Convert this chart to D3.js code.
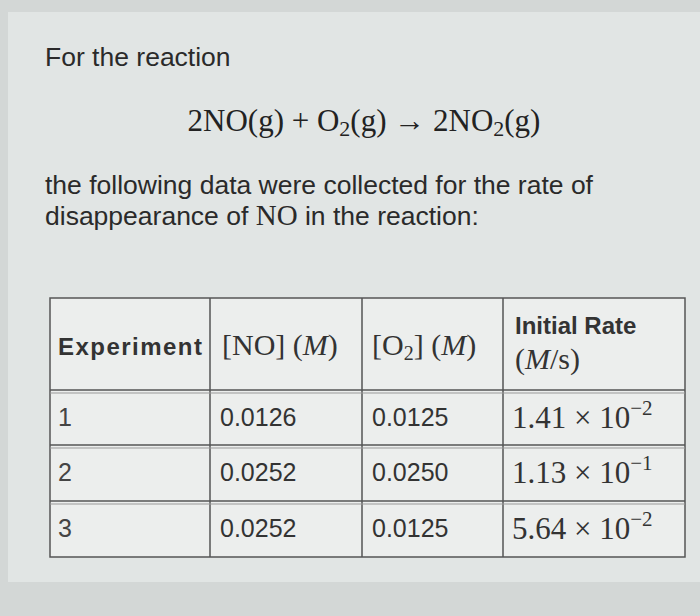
<!DOCTYPE html>
<html><head><meta charset="utf-8">
<script src="https://cdn.jsdelivr.net/npm/d3@7"></script>
<style>body{margin:0;background:#d6dad9}</style></head>
<body><svg id="c" width="700" height="616"></svg>
<script>
// table contents
const headers = ["Experiment", "[NO] (M)", "[O2] (M)", "Initial Rate (M/s)"];
const experiments = ["1", "2", "3"];
const noConc = ["0.0126", "0.0252", "0.0252"];
const o2Conc = ["0.0125", "0.0250", "0.0125"];
const rateMant = ["1.41", "1.13", "5.64"];
const rateExp = ["−2", "−1", "−2"];

const svg = d3.select("#c");
const sans = "Helvetica, Arial, 'Liberation Sans', sans-serif";
const serif = "'Liberation Serif', 'Times New Roman', serif";

svg.append("rect").attr("width", 700).attr("height", 616).attr("fill", "#d3d7d6");
svg.append("rect").attr("x", 8).attr("y", 12).attr("width", 692).attr("height", 570).attr("fill", "#e1e5e4");

svg.append("text").attr("x", 45).attr("y", 66).attr("font-family", sans).attr("font-size", 26.5)
  .attr("fill", "#2a2a2a").text("For the reaction");

// equation
const eq = svg.append("text").attr("x", 364).attr("y", 131).attr("text-anchor", "middle")
  .attr("font-family", serif).attr("font-size", 31).attr("fill", "#222");
eq.append("tspan").text("2NO(g) + O");
eq.append("tspan").attr("font-size", 22).attr("dy", 5).text("2");
eq.append("tspan").attr("dy", -5).text("(g) → 2NO");
eq.append("tspan").attr("font-size", 22).attr("dy", 5).text("2");
eq.append("tspan").attr("dy", -5).text("(g)");

const p = svg.append("text").attr("font-family", sans).attr("font-size", 26.5).attr("fill", "#2a2a2a");
p.append("tspan").attr("x", 45).attr("y", 194).text("the following data were collected for the rate of");
const l2 = p.append("tspan").attr("x", 45).attr("y", 225);
l2.append("tspan").text("disappearance of ");
l2.append("tspan").attr("font-family", serif).attr("font-size", 29).text("NO");
l2.append("tspan").text(" in the reaction:");

// table geometry via scales
const colEdges = [50, 210, 362, 503, 685];
const rowEdges = [298, 390, 445, 501, 557];
const x = d3.scaleOrdinal().domain(d3.range(4)).range(colEdges.slice(0, 4));
const y = d3.scaleOrdinal().domain(d3.range(4)).range(rowEdges.slice(0, 4));

svg.append("rect").attr("x", 50).attr("y", 298).attr("width", 635).attr("height", 259)
  .attr("fill", "#eceeed").attr("stroke", "#555").attr("stroke-width", 1.5);
svg.selectAll("line.v").data(colEdges.slice(1, 4)).join("line")
  .attr("x1", d => d).attr("x2", d => d).attr("y1", 298).attr("y2", 557)
  .attr("stroke", "#555").attr("stroke-width", 1.5);
svg.selectAll("line.h").data(rowEdges.slice(1, 4)).join("line")
  .attr("x1", 50).attr("x2", 685).attr("y1", d => d).attr("y2", d => d)
  .attr("stroke", "#555").attr("stroke-width", 1.5);
svg.selectAll("line.h2").data(rowEdges.slice(1, 4)).join("line")
  .attr("x1", 50).attr("x2", 685).attr("y1", d => d + 3).attr("y2", d => d + 3)
  .attr("stroke", "#999").attr("stroke-width", 1);

// header
const hy = 355;
svg.append("text").attr("x", x(0) + 8).attr("y", hy).attr("font-family", sans)
  .attr("font-weight", "bold").attr("font-size", 24).attr("textLength", 144).attr("fill", "#333").text(headers[0]);
function conc(xx, sub, w) {
  const tt = svg.append("text").attr("x", xx).attr("y", hy).attr("font-family", serif)
    .attr("font-size", 30).attr("fill", "#333");
  tt.append("tspan").text(sub ? "[O" : "[NO");
  if (sub) { tt.append("tspan").attr("font-size", 20).attr("dy", 5).text("2"); tt.append("tspan").attr("dy", -5).text("]"); }
  else tt.append("tspan").text("]");
  tt.append("tspan").text(" (");
  tt.append("tspan").attr("font-style", "italic").text("M");
  tt.append("tspan").text(")");
}
conc(x(1) + 12, false);
conc(x(2) + 10, true);
svg.append("text").attr("x", x(3) + 12).attr("y", 334).attr("font-family", sans)
  .attr("font-weight", "bold").attr("font-size", 24).attr("fill", "#333").text("Initial Rate");
const u = svg.append("text").attr("x", x(3) + 12).attr("y", 369).attr("font-family", serif)
  .attr("font-size", 30).attr("fill", "#333");
u.append("tspan").text("(");
u.append("tspan").attr("font-style", "italic").text("M");
u.append("tspan").text("/s)");

// data rows
experiments.forEach((e, i) => {
  const ry = y(i + 1) + 36;
  svg.append("text").attr("x", x(0) + 8).attr("y", ry).attr("font-family", sans)
    .attr("font-size", 25).attr("fill", "#444").text(e);
  svg.append("text").attr("x", x(1) + 10).attr("y", ry).attr("font-family", sans)
    .attr("font-size", 25).attr("fill", "#333").text(noConc[i]);
  svg.append("text").attr("x", x(2) + 10).attr("y", ry).attr("font-family", sans)
    .attr("font-size", 25).attr("fill", "#333").text(o2Conc[i]);
  const r = svg.append("text").attr("x", x(3) + 9).attr("y", ry + 2).attr("font-family", serif)
    .attr("font-size", 31).attr("fill", "#333");
  r.append("tspan").text(rateMant[i] + " × 10");
  r.append("tspan").attr("font-size", 21).attr("dy", -13).text(rateExp[i]);
});
</script></body></html>
